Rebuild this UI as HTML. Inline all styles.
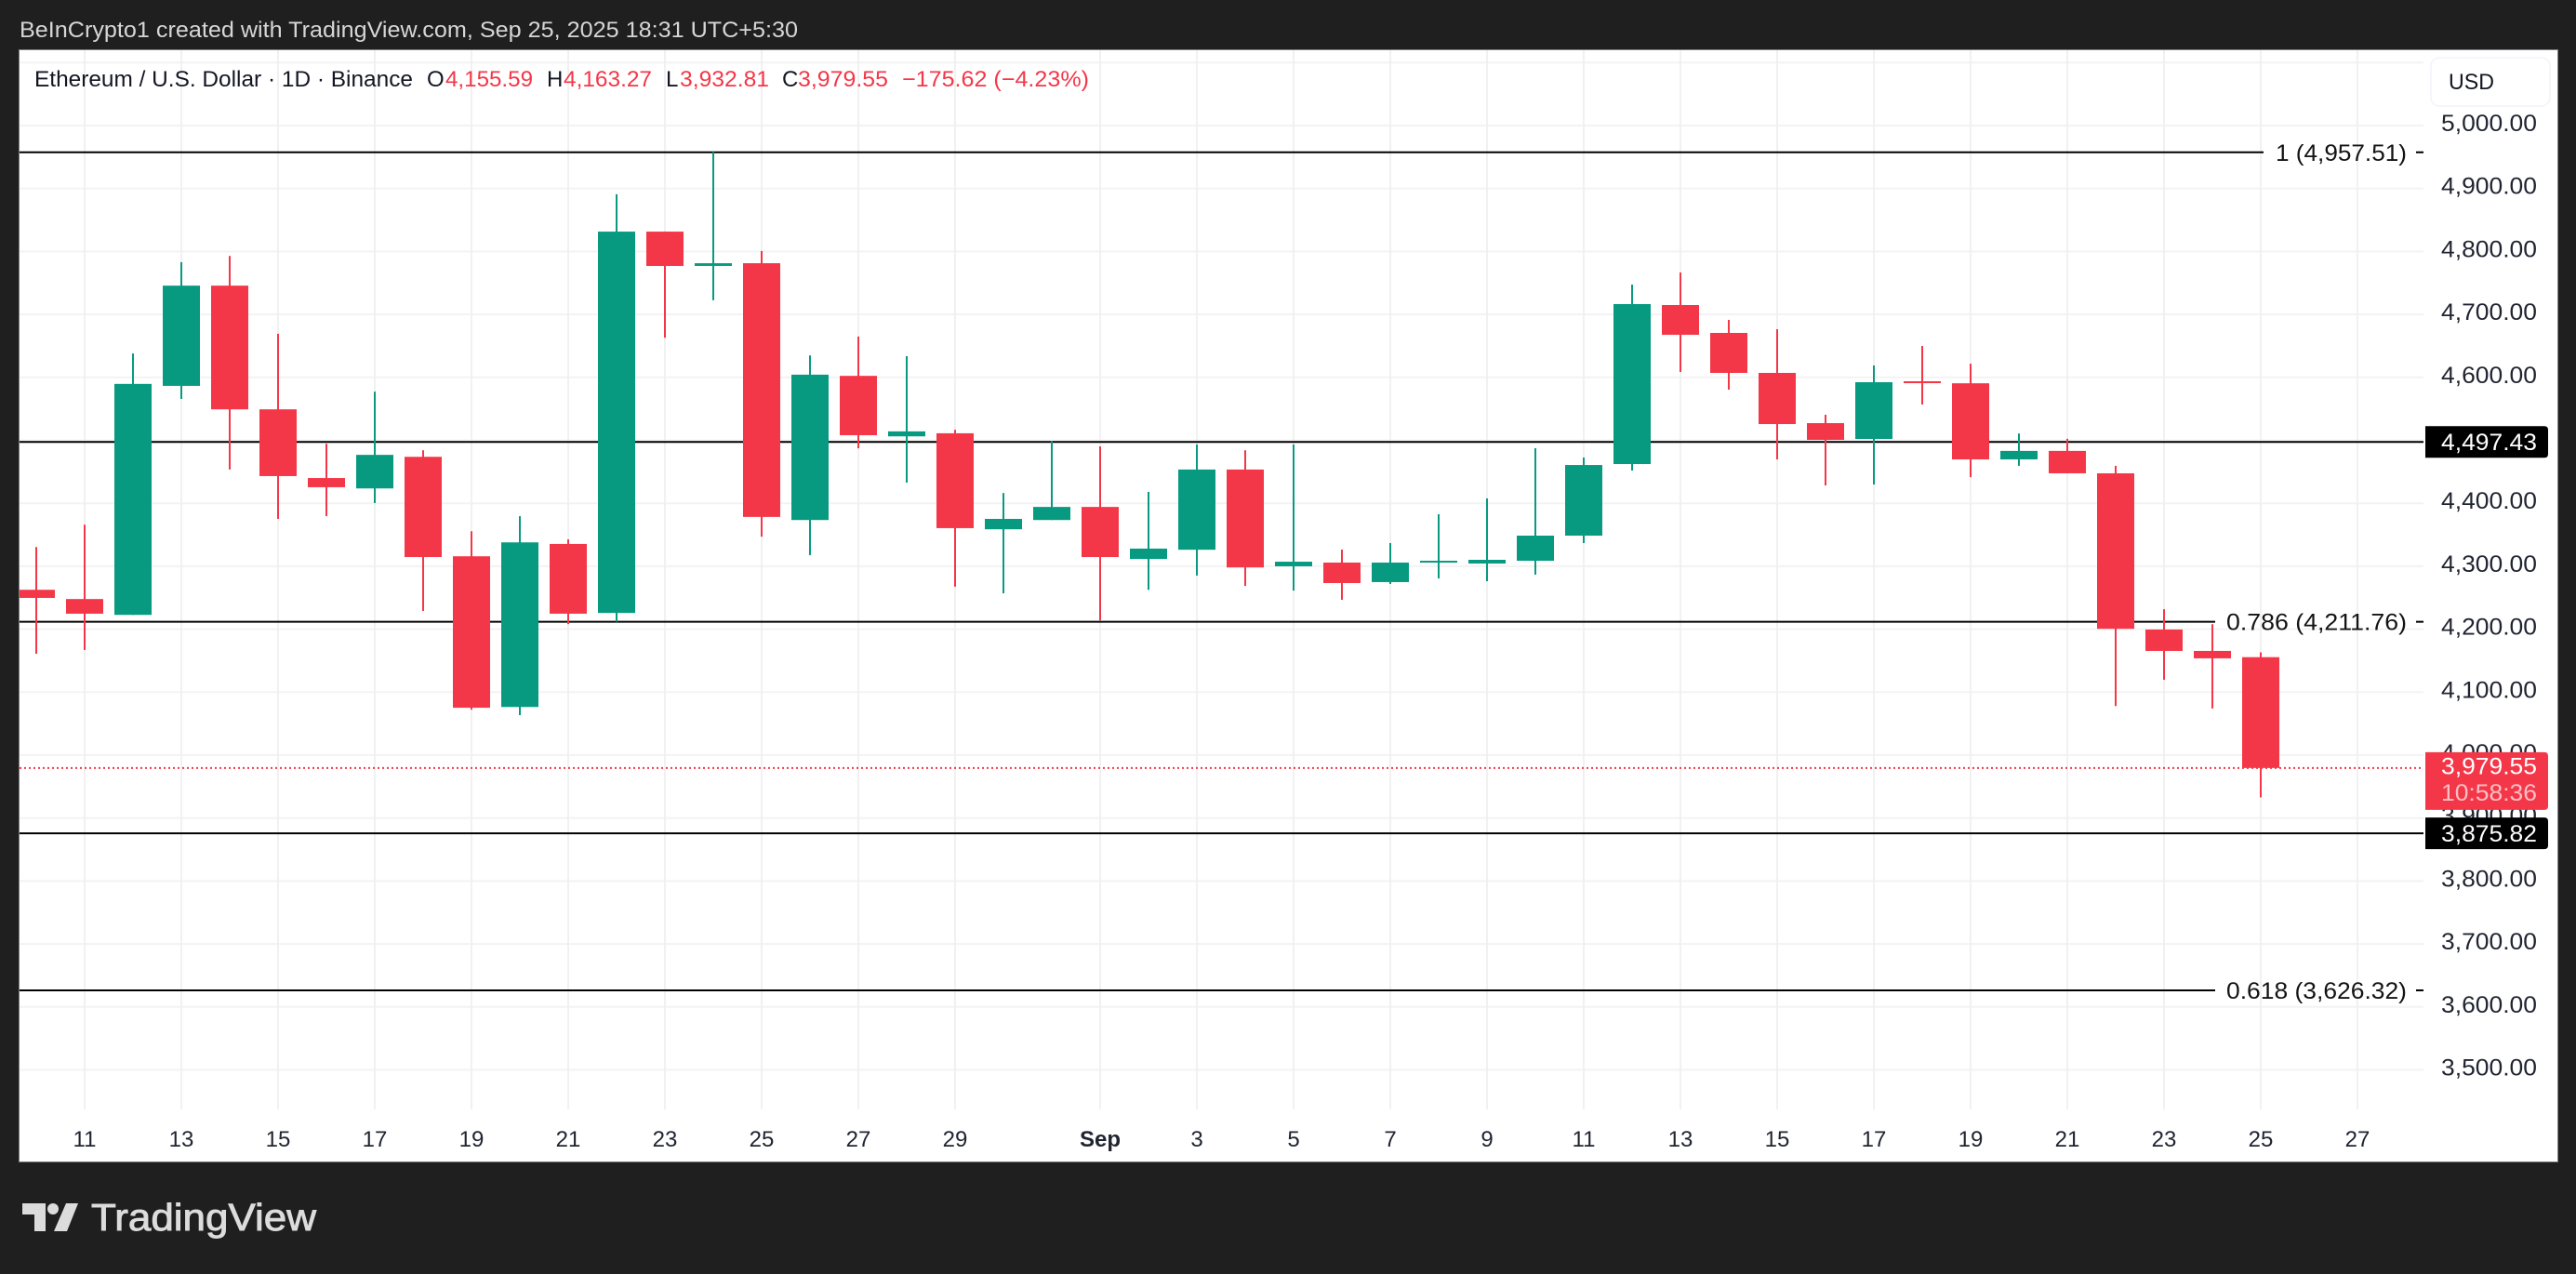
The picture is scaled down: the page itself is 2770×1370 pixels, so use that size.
<!DOCTYPE html>
<html lang="en">
<head>
<meta charset="utf-8">
<title>Ethereum / U.S. Dollar 1D chart</title>
<style>
html,body{margin:0;padding:0;background:#1f1f1f;width:2770px;height:1370px;overflow:hidden}
svg{display:block}
text{font-family:"Liberation Sans",sans-serif}
</style>
</head>
<body>
<svg id="chart" xmlns="http://www.w3.org/2000/svg" width="2770" height="1370" viewBox="0 0 2770 1370">
  <rect x="0" y="0" width="2770" height="1370" fill="#1f1f1f"/>
  <text x="21" y="40" font-size="24" fill="#d6d6d6" textLength="837" lengthAdjust="spacingAndGlyphs">BeInCrypto1 created with TradingView.com, Sep 25, 2025 18:31 UTC+5:30</text>
  <rect x="20.5" y="53.5" width="2730" height="1196" fill="#ffffff" stroke="#7c7c7c" stroke-width="1"/>
  <defs><clipPath id="plot-clip"><rect x="21" y="54" width="2585" height="1139"/></clipPath></defs>
  <g id="grid"></g>
  <g id="price-labels"></g>
  <g id="time-labels"></g>
  <g id="levels"></g>
  <g id="last-line"></g>
  <g id="candles" clip-path="url(#plot-clip)"></g>
  <g id="badges"></g>

  <g font-size="24">
    <text x="37" y="93" fill="#131722" textLength="407" lengthAdjust="spacingAndGlyphs">Ethereum / U.S. Dollar · 1D · Binance</text>
    <text x="459" y="93" fill="#131722">O</text>
    <text x="479" y="93" fill="#f43748" textLength="94" lengthAdjust="spacingAndGlyphs">4,155.59</text>
    <text x="588" y="93" fill="#131722">H</text>
    <text x="606" y="93" fill="#f43748" textLength="95" lengthAdjust="spacingAndGlyphs">4,163.27</text>
    <text x="716" y="93" fill="#131722">L</text>
    <text x="731" y="93" fill="#f43748" textLength="96" lengthAdjust="spacingAndGlyphs">3,932.81</text>
    <text x="841" y="93" fill="#131722">C</text>
    <text x="858" y="93" fill="#f43748" textLength="97" lengthAdjust="spacingAndGlyphs">3,979.55</text>
    <text x="970" y="93" fill="#f43748" textLength="201" lengthAdjust="spacingAndGlyphs">−175.62 (−4.23%)</text>
  </g>

  <g>
    <rect x="2614" y="62" width="128" height="52" rx="9" fill="#ffffff" stroke="#f0f3fa" stroke-width="1.5"/>
    <text x="2633" y="96" font-size="24" fill="#131722" textLength="49" lengthAdjust="spacingAndGlyphs">USD</text>
  </g>

  <g fill="#dcdcdc">
    <path d="M24 1294H49V1324H37V1306H24Z"/>
    <circle cx="57" cy="1300" r="6"/>
    <path d="M71 1294H84L72 1324H58Z"/>
    <text x="98" y="1323" font-size="41" font-weight="400" stroke="#dcdcdc" stroke-width="0.9" textLength="242" lengthAdjust="spacingAndGlyphs">TradingView</text>
  </g>
</svg>

<script>
// Day offsets from Aug 10, 2025 for each candle (one per day)
const candleDates = ["Aug 10","Aug 11","Aug 12","Aug 13","Aug 14","Aug 15","Aug 16","Aug 17","Aug 18","Aug 19","Aug 20","Aug 21","Aug 22","Aug 23","Aug 24","Aug 25","Aug 26","Aug 27","Aug 28","Aug 29","Aug 30","Aug 31","Sep 1","Sep 2","Sep 3","Sep 4","Sep 5","Sep 6","Sep 7","Sep 8","Sep 9","Sep 10","Sep 11","Sep 12","Sep 13","Sep 14","Sep 15","Sep 16","Sep 17","Sep 18","Sep 19","Sep 20","Sep 21","Sep 22","Sep 23","Sep 24","Sep 25"];
const opens  = [4262.6,4247.9,4222.7,4586.5,4745.7,4549.2,4440.1,4423.6,4473.8,4315.8,4076.4,4335.4,4225.8,4831.5,4777.0,4781.3,4373.4,4602.4,4506.3,4511.2,4358.7,4373.4,4394.2,4311.5,4326.2,4453.6,4299.9,4305.8,4274.8,4305.8,4304.3,4308.7,4348.6,4462.3,4714.9,4670.6,4607.1,4527.3,4502.2,4593.8,4590.6,4469.7,4483.2,4447.6,4199.5,4165.5,4155.59];
const highs  = [4330.5,4366.0,4638.0,4783.0,4792.9,4669.2,4494.6,4577.3,4484.2,4355.6,4379.5,4342.8,4890.9,4831.5,4958.0,4800.8,4634.9,4664.9,4633.7,4516.7,4416.3,4498.3,4490.4,4418.1,4493.4,4484.2,4493.4,4326.4,4336.8,4382.6,4407.7,4487.4,4472.7,4747.4,4766.6,4691.3,4676.5,4540.6,4618.9,4649.9,4621.7,4510.9,4502.5,4459.5,4231.7,4207.9,4163.27];
const lows   = [4160.9,4167.0,4222.7,4565.7,4453.6,4375.2,4379.5,4400.3,4228.9,4072.1,4063.5,4208.0,4211.7,4663.0,4722.5,4347.0,4317.7,4487.3,4432.8,4267.5,4257.0,4373.4,4214.0,4262.5,4285.2,4268.7,4261.3,4246.7,4271.8,4280.6,4276.2,4286.6,4336.8,4452.0,4608.6,4580.5,4469.7,4428.3,4429.8,4556.9,4441.4,4459.5,4447.6,4077.9,4119.7,4074.0,3932.81];
const closes = [4249.7,4224.6,4589.6,4745.7,4549.2,4443.2,4425.5,4476.9,4314.6,4075.2,4337.9,4224.6,4831.5,4777.0,4781.3,4378.3,4604.3,4508.1,4514.2,4360.5,4375.2,4394.2,4314.6,4328.0,4453.6,4298.1,4307.2,4273.3,4305.8,4308.7,4310.2,4348.6,4460.8,4716.4,4667.6,4607.1,4525.8,4500.7,4592.3,4590.8,4469.7,4483.2,4447.6,4200.6,4165.5,4153.7,3979.55];

// Axis ticks
const priceTicks = [5100,5000,4900,4800,4700,4600,4500,4400,4300,4200,4100,4000,3900,3800,3700,3600,3500];
const priceTickLabels = ["","5,000.00","4,900.00","4,800.00","4,700.00","4,600.00","4,500.00","4,400.00","4,300.00","4,200.00","4,100.00","4,000.00","3,900.00","3,800.00","3,700.00","3,600.00","3,500.00"];
const dateTickDates = ["Aug 11","Aug 13","Aug 15","Aug 17","Aug 19","Aug 21","Aug 23","Aug 25","Aug 27","Aug 29","Sep 1","Sep 3","Sep 5","Sep 7","Sep 9","Sep 11","Sep 13","Sep 15","Sep 17","Sep 19","Sep 21","Sep 23","Sep 25","Sep 27"];
const dateTickLabels = ["11","13","15","17","19","21","23","25","27","29","Sep","3","5","7","9","11","13","15","17","19","21","23","25","27"];

// Drawn levels
const fibLabels = ["1","0.786","0.618"];
const fibPrices = [4957.51,4211.76,3626.32];
const fibPriceLabels = ["4,957.51","4,211.76","3,626.32"];
const badgeLevels = [4497.43,3875.82];
const badgeLevelLabels = ["4,497.43","3,875.82"];
const lastPrice = 3979.55;
const lastPriceLabel = "3,979.55";
const countdownLabel = "10:58:36";

const NS = "http://www.w3.org/2000/svg";
const GREEN = "#089a81";
const RED = "#f43748";
const PLOT_LEFT = 21, PLOT_RIGHT = 2606, PLOT_TOP = 54, PLOT_BOTTOM = 1193;

// Axis functions
function yScale(price){ return 135 + (5000 - price) * 0.677; }
function dayIndex(label){
  const parts = label.split(" ");
  const base = parts[0] === "Aug" ? 0 : 21;
  return base + Number(parts[1]) - (parts[0] === "Aug" ? 10 : 0);
}
function xScale(label){ return 39 + dayIndex(label) * 52; }

function make(tag, attrs, parent, text){
  const el = document.createElementNS(NS, tag);
  for (const k in attrs) el.setAttribute(k, attrs[k]);
  if (text !== undefined) el.textContent = text;
  parent.appendChild(el);
  return el;
}

const gridG = document.getElementById("grid");
priceTicks.forEach(function(p){
  const el = make("line",{x1:PLOT_LEFT,x2:PLOT_RIGHT,y1:yScale(p),y2:yScale(p),stroke:"#f3f3f4","stroke-width":2},gridG);
  
  
});
dateTickDates.forEach(function(d){
  const el = make("line",{x1:xScale(d),x2:xScale(d),y1:PLOT_TOP,y2:PLOT_BOTTOM,stroke:"#f0f0f1","stroke-width":2,"opacity":0.9},gridG);
  
  
});

const priceG = document.getElementById("price-labels");
priceTicks.forEach(function(p,i){
  if (!priceTickLabels[i]) return;
  const el = make("text",{x:2625,y:yScale(p)+6,"font-size":25,fill:"#1f2430",textLength:103,lengthAdjust:"spacingAndGlyphs"},priceG,priceTickLabels[i]);
  
  
});

const timeG = document.getElementById("time-labels");
dateTickDates.forEach(function(d,i){
  const isMonth = dateTickLabels[i] === "Sep";
  const el = make("text",{x:xScale(d),y:1233,"font-size":24,"text-anchor":"middle",fill:"#1f2430","font-weight":isMonth?700:400},timeG,dateTickLabels[i]);
  
  
});

const levelG = document.getElementById("levels");
fibPrices.forEach(function(p,i){
  const y = yScale(p);
  const txt = fibLabels[i] + " (" + fibPriceLabels[i] + ")";
  const isOne = fibLabels[i] === "1";
  const lineEnd = isOne ? 2434 : 2382;
  const labelX = isOne ? 2447 : 2394;
  const labelW = isOne ? 141 : 194;
  const line = make("line",{x1:PLOT_LEFT,x2:lineEnd,y1:y,y2:y,stroke:"#000","stroke-width":2},levelG);
  
  
  const stub = make("line",{x1:2598,x2:PLOT_RIGHT,y1:y,y2:y,stroke:"#000","stroke-width":2},levelG);
  
  
  const label = make("text",{x:labelX,y:y+9,"font-size":25,fill:"#131313",textLength:labelW,lengthAdjust:"spacingAndGlyphs"},levelG,txt);
  
  
});
badgeLevels.forEach(function(p){
  const y = yScale(p);
  const line = make("line",{x1:PLOT_LEFT,x2:PLOT_RIGHT,y1:y,y2:y,stroke:"#000","stroke-width":2},levelG);
  
  
});

const lastG = document.getElementById("last-line");
const lastLine = make("line",{x1:PLOT_LEFT,x2:PLOT_RIGHT,y1:yScale(lastPrice),y2:yScale(lastPrice),stroke:RED,"stroke-width":2,"stroke-dasharray":"2 3"},lastG);



const candleG = document.getElementById("candles");
candleDates.forEach(function(d,i){
  const x = xScale(d);
  const col = closes[i] >= opens[i] ? GREEN : RED;
  const top = yScale(Math.max(opens[i],closes[i]));
  const bot = yScale(Math.min(opens[i],closes[i]));
  const wick = make("rect",{x:x-1,y:yScale(highs[i]),width:2,height:yScale(lows[i])-yScale(highs[i]),fill:col},candleG);
  
  
  const body = make("rect",{x:x-20,y:top,width:40,height:Math.max(bot-top,2),fill:col},candleG);
  
  
});

const badgeG = document.getElementById("badges");
function badgePath(y,h){
  const x = 2608, w = 132, r = 4;
  return "M"+x+" "+y+"H"+(x+w-r)+"Q"+(x+w)+" "+y+" "+(x+w)+" "+(y+r)+"V"+(y+h-r)+"Q"+(x+w)+" "+(y+h)+" "+(x+w-r)+" "+(y+h)+"H"+x+"Z";
}
badgeLevels.forEach(function(p,i){
  const y = yScale(p);
  const box = make("path",{d:badgePath(y-17,34),fill:"#000"},badgeG);
  
  
  const t = make("text",{x:2625,y:y+9,"font-size":25,fill:"#fff",textLength:103,lengthAdjust:"spacingAndGlyphs"},badgeG,badgeLevelLabels[i]);
  
  
});
const ly = yScale(lastPrice);
const lastBox = make("path",{d:badgePath(ly-17,62),fill:RED},badgeG);


const lastText = make("text",{x:2625,y:ly+6.5,"font-size":25,fill:"#fff",textLength:103,lengthAdjust:"spacingAndGlyphs"},badgeG,lastPriceLabel);


const cdText = make("text",{x:2625,y:ly+35,"font-size":25,fill:"#fbc0c6",textLength:103,lengthAdjust:"spacingAndGlyphs"},badgeG,countdownLabel);


</script>
</body>
</html>
